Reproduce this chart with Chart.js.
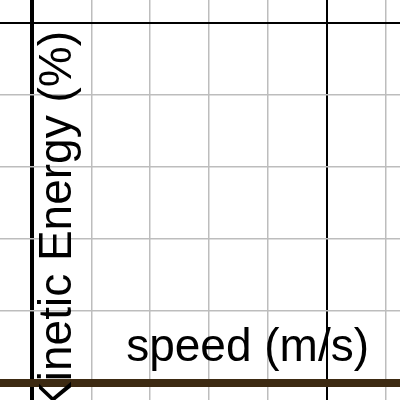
<!DOCTYPE html>
<html><head><meta charset="utf-8">
<script src="https://cdn.jsdelivr.net/npm/chart.js@4/dist/chart.umd.min.js"></script>
<style>html,body{margin:0;padding:0;background:#fff}</style>
</head><body>
<canvas id="c" width="400" height="400"></canvas>
<script>
const xTitle = "speed (m/s)";
const yTitle = "Kinetic Energy (%)";
const xRange = [-0.55, 6.24];
const yRange = [-0.236, 5.319];
const axisXValue = 0;   // heavy horizontal axis at y = 0
const axisYValue = 0;   // heavy vertical axis at x = 0
const blackX = [5];
const blackY = [5];

const titles = {
  id: 'titles',
  afterDraw(chart) {
    const ctx = chart.ctx;
    ctx.save();
    ctx.fillStyle = '#000';
    ctx.font = '46px "Liberation Sans", Arial, sans-serif';
    ctx.textAlign = 'right';
    ctx.textBaseline = 'alphabetic';
    ctx.fillText(xTitle, 369, 361);
    ctx.translate(71, 31);
    ctx.rotate(-Math.PI / 2);
    ctx.fillText(yTitle, 0, 0);
    ctx.restore();
  }
};

const near = (a, b) => Math.abs(a - b) < 1e-6;
function gridStyle(axisVal, blacks, axisColor, axisWidth) {
  return {
    drawTicks: false,
    color: c => near(c.tick.value, axisVal) ? axisColor : (blacks.some(b => near(b, c.tick.value)) ? '#000' : '#bdbdbd'),
    lineWidth: c => near(c.tick.value, axisVal) ? axisWidth : (blacks.some(b => near(b, c.tick.value)) ? 2 : 1.5)
  };
}

new Chart(document.getElementById('c'), {
  type: 'scatter',
  data: { datasets: [{ data: [] }] },
  options: {
    responsive: false, devicePixelRatio: 1, animation: false,
    layout: { padding: 0 },
    plugins: { legend: { display: false }, tooltip: { enabled: false } },
    scales: {
      x: { type: 'linear', min: xRange[0], max: xRange[1],
           afterBuildTicks: s => { s.ticks = [-1,0,1,2,3,4,5,6,7].map(v => ({ value: v })); },
           ticks: { display: false }, border: { display: false },
           grid: gridStyle(axisYValue, blackX, '#000', 4) },
      y: { type: 'linear', min: yRange[0], max: yRange[1],
           afterBuildTicks: s => { s.ticks = [-1,0,1,2,3,4,5,6].map(v => ({ value: v })); },
           ticks: { display: false }, border: { display: false },
           grid: gridStyle(axisXValue, blackY, '#3d2a12', 8) }
    }
  },
  plugins: [titles]
});
</script>
</body></html>
